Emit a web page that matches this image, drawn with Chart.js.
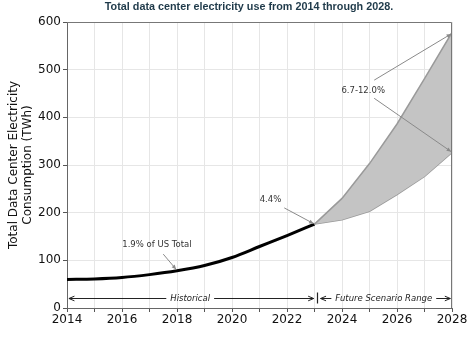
<!DOCTYPE html>
<html>
<head>
<meta charset="utf-8">
<script src="https://cdn.jsdelivr.net/npm/chart.js@4.4.1/dist/chart.umd.min.js"></script>
<style>
  html, body { margin: 0; padding: 0; background: #ffffff; }
</style>
</head>
<body>
<canvas id="chart" width="474" height="348"></canvas>
<script>
// Chart values
const historicalYears = [2014, 2015, 2016, 2017, 2018, 2019, 2020, 2021, 2022, 2023];
const historicalTWh = [60, 61, 64, 70, 78, 89, 106, 129, 152, 176];
const futureYears = [2023, 2024, 2025, 2026, 2027, 2028];
const futureHighTWh = [176, 230, 303, 386, 481, 578];
const futureLowTWh = [176, 185, 203, 238, 276, 326];
const yTicks = [0, 100, 200, 300, 400, 500, 600];
const xLabelYears = [2014, 2016, 2018, 2020, 2022, 2024, 2026, 2028];
const chartTitle = 'Total data center electricity use from 2014 through 2028.';

const toPoints = (xs, ys) => xs.map((x, i) => ({ x: x, y: ys[i] }));

// Callouts in data coordinates
const callouts = [
    { text: '1.9% of US Total', at: [2017.27, 132], arrows: [[[2017.5, 113], [2017.97, 81]]] },
    { text: '4.4%', at: [2021.4, 226], arrows: [[[2021.9, 210], [2022.97, 177]]] },
    { text: '6.7-12.0%', at: [2024.77, 456], arrows: [[[2025.17, 478], [2027.97, 575]], [[2025.17, 440], [2027.97, 328]]] }
];
const rangeY = 21.5;

const tickFont = { family: 'DejaVu Sans', size: 12 };
const noteFont = '8.5px "DejaVu Sans"';
const noteColor = '#333333';
const arrowColor = '#8a8a8a';

function arrowHead(ctx, x1, y1, x2, y2, size, filled) {
    const ang = Math.atan2(y2 - y1, x2 - x1);
    ctx.beginPath();
    ctx.moveTo(x2 - size * Math.cos(ang - 0.4), y2 - size * Math.sin(ang - 0.4));
    ctx.lineTo(x2, y2);
    ctx.lineTo(x2 - size * Math.cos(ang + 0.4), y2 - size * Math.sin(ang + 0.4));
    if (filled) {
        ctx.closePath();
        ctx.fill();
    } else {
        ctx.stroke();
    }
}

const notesPlugin = {
    id: 'notes',
    afterDatasetsDraw(chart) {
        const { ctx, chartArea: a, scales: { x, y } } = chart;
        ctx.save();

        // title, centred a little left of the plot centre like the original
        ctx.font = 'bold 10.8px "Liberation Sans"';
        ctx.fillStyle = '#1f3a4a';
        ctx.textAlign = 'center';
        ctx.textBaseline = 'middle';
        ctx.fillText(chartTitle, 249, 7.5);

        // frame on top and right
        ctx.strokeStyle = '#777777';
        ctx.lineWidth = 1;
        ctx.beginPath();
        ctx.moveTo(a.left, a.top + 0.5);
        ctx.lineTo(a.right - 0.5, a.top + 0.5);
        ctx.lineTo(a.right - 0.5, a.bottom);
        ctx.stroke();

        // callouts
        ctx.font = noteFont;
        callouts.forEach(c => {
            ctx.fillStyle = noteColor;
            ctx.fillText(c.text, x.getPixelForValue(c.at[0]), y.getPixelForValue(c.at[1]));
            c.arrows.forEach(([from, to]) => {
                const x1 = x.getPixelForValue(from[0]), y1 = y.getPixelForValue(from[1]);
                const x2 = x.getPixelForValue(to[0]), y2 = y.getPixelForValue(to[1]);
                ctx.strokeStyle = arrowColor;
                ctx.fillStyle = arrowColor;
                ctx.lineWidth = 1;
                ctx.beginPath();
                ctx.moveTo(x1, y1);
                ctx.lineTo(x2, y2);
                ctx.stroke();
                arrowHead(ctx, x1, y1, x2, y2, 5, true);
            });
        });

        // range arrows along the bottom
        const ry = Math.round(y.getPixelForValue(rangeY)) + 0.5;
        const ranges = [
            { text: 'Historical', from: 2014.07, to: 2022.97, mid: 2018.48 },
            { text: 'Future Scenario Range', from: 2023.22, to: 2027.94, mid: 2025.52 }
        ];
        ctx.font = 'italic ' + noteFont;
        ranges.forEach(r => {
            const x1 = x.getPixelForValue(r.from), x2 = x.getPixelForValue(r.to);
            const xm = x.getPixelForValue(r.mid);
            const w = ctx.measureText(r.text).width + 8;
            ctx.strokeStyle = '#222222';
            ctx.lineWidth = 1;
            ctx.beginPath();
            ctx.moveTo(x1, ry);
            ctx.lineTo(xm - w / 2, ry);
            ctx.moveTo(xm + w / 2, ry);
            ctx.lineTo(x2, ry);
            ctx.stroke();
            arrowHead(ctx, x2, ry, x1, ry, 6, false);
            arrowHead(ctx, x1, ry, x2, ry, 6, false);
            ctx.fillStyle = '#222222';
            ctx.fillText(r.text, xm, ry);
        });
        const bx = Math.round(x.getPixelForValue(2023.08)) + 0.5;
        ctx.strokeStyle = '#222222';
        ctx.lineWidth = 1.2;
        ctx.beginPath();
        ctx.moveTo(bx, ry - 6);
        ctx.lineTo(bx, ry + 5);
        ctx.stroke();

        ctx.restore();
    }
};

const ctx = document.getElementById('chart').getContext('2d');
const chart = new Chart(ctx, {
    type: 'line',
    data: {
        datasets: [
            {
                label: 'Future high',
                data: toPoints(futureYears, futureHighTWh),
                borderColor: '#9a9a9a',
                borderWidth: 1.5,
                backgroundColor: '#c4c4c4',
                fill: '+1',
                pointRadius: 0,
                tension: 0
            },
            {
                label: 'Future low',
                data: toPoints(futureYears, futureLowTWh),
                borderColor: '#9a9a9a',
                borderWidth: 1.5,
                fill: false,
                pointRadius: 0,
                tension: 0
            },
            {
                label: 'Historical',
                data: toPoints(historicalYears, historicalTWh),
                borderColor: '#000000',
                borderWidth: 3,
                fill: false,
                pointRadius: 0,
                cubicInterpolationMode: 'monotone'
            }
        ]
    },
    options: {
        responsive: false,
        animation: false,
        layout: { padding: { left: 0, right: 22, top: 22, bottom: 0 } },
        plugins: {
            legend: { display: false },
            tooltip: { enabled: false },
            title: { display: false }
        },
        scales: {
            x: {
                type: 'linear',
                min: 2014,
                max: 2028,
                afterFit: s => { s.height = 40; },
                ticks: {
                    stepSize: 1,
                    autoSkip: false,
                    maxRotation: 0,
                    padding: 1,
                    color: '#111111',
                    font: tickFont,
                    callback: v => xLabelYears.includes(v) ? String(v) : ''
                },
                grid: { color: '#e6e6e6', tickColor: '#555555', tickLength: 4 },
                border: { color: '#666666', width: 1 }
            },
            y: {
                min: 0,
                max: 600,
                afterFit: s => { s.width = 67; },
                afterBuildTicks: s => { s.ticks = yTicks.map(v => ({ value: v })); },
                ticks: {
                    padding: 2,
                    color: '#111111',
                    font: tickFont
                },
                grid: { color: '#e6e6e6', tickColor: '#555555', tickLength: 4 },
                border: { color: '#666666', width: 1 },
                title: {
                    display: true,
                    text: ['Total Data Center Electricity', 'Consumption (TWh)'],
                    color: '#111111',
                    font: { family: 'DejaVu Sans', size: 12, lineHeight: 1.15 },
                    padding: { top: 7, bottom: 0 }
                }
            }
        }
    },
    plugins: [notesPlugin]
});
</script>
</body>
</html>
